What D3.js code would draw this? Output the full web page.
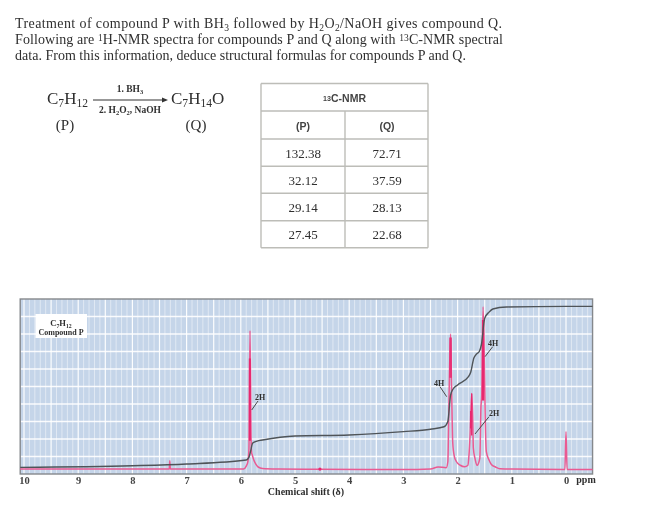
<!DOCTYPE html>
<meta charset="utf-8">
<style>
    html, body { margin: 0; background: #fff; }
    svg { display: block; filter: blur(0.45px); }
    .body { font-family: "Liberation Serif", serif; fill: #2f2f2f; }
    .sans { font-family: "Liberation Sans", sans-serif; font-weight: bold; fill: #444; }
    .tick text { font-family: "Liberation Serif", serif; font-size: 10.5px; font-weight: bold; fill: #444; }
</style>
<svg width="646" height="511"></svg>
<script src="https://d3js.org/d3.v7.min.js"></script>
<script>

    // question text, "_" = subscript run, "^" = superscript run
    var questionLines = [
        ["Treatment of compound P with BH", "_3", " followed by H", "_2", "O", "_2", "/NaOH gives compound Q."],
        ["Following are ", "^1", "H-NMR spectra for compounds P and Q along with ", "^13", "C-NMR spectral"],
        ["data. From this information, deduce structural formulas for compounds P and Q."]
    ];

    // 13C table
    var tableTitle = ["^13", "C-NMR"];
    var tableHeads = ["(P)", "(Q)"];
    var carbonP = ["132.38", "32.12", "29.14", "27.45"];
    var carbonQ = ["72.71", "37.59", "28.13", "22.68"];

    // pink 1H trace: ppm, intensity
    var tracePpm = [10.07, 7.34, 7.32, 7.31, 7.30, 7.28, 5.95, 5.90, 5.87, 5.85, 5.83, 5.81, 5.80, 5.79, 5.76, 5.72, 5.68, 5.6, 5.3, 4.6,
        3.0, 2.5, 2.36, 2.21, 2.18, 2.16, 2.13, 2.11, 2.09, 2.06, 2.02, 1.95, 1.87, 1.81, 1.79, 1.77, 1.74, 1.72, 1.71, 1.68, 1.64,
        1.59, 1.57, 1.555, 1.53, 1.505, 1.49, 1.47, 1.42, 1.38, 1.3, 1.22, 1.0, 0.02, 0.0, -0.02, -0.49];
    var traceVal = [2.8, 2.8, 2.8, 7.6, 2.8, 2.8, 2.8, 4.5, 7, 14, 82, 20, 12, 11, 8, 5.5, 4, 3.2, 2.9, 2.7,
        2.6, 2.9, 4, 3.6, 7, 40, 80, 48, 18, 10, 7, 5, 4.2, 5, 10.8, 22, 46, 30, 15, 9, 5,
        9, 37.7, 45, 95.6, 60, 32, 12.8, 8, 5.6, 4, 3, 2.8, 2.6, 24.2, 2.6, 2.6];

    // dense multiplet lines inside the peaks: ppm, low, high
    var multipletPpm = [5.84, 5.825, 2.14, 2.12, 1.76, 1.74, 1.54, 1.52];
    var multipletLow = [19, 19, 55, 55, 26, 22, 42, 42];
    var multipletHigh = [66, 66, 78, 78, 36, 46, 88, 88];

    // dark integral curve
    var integralPpm = [10.07, 8, 7, 5.9, 5.85, 5.82, 5.78, 5.7, 5.6, 5, 4, 3, 2.5, 2.25, 2.18, 2.13, 2.08, 2.0, 1.8, 1.76, 1.7, 1.65, 1.6,
        1.56, 1.5, 1.42, 1.35, 1.1, 0, -0.49];
    var integralVal = [3.8, 4.7, 5.7, 8, 9.5, 13, 17.7, 18.8, 19.4, 21.7, 22.3, 24.2, 25.6, 27, 30, 45, 48.7, 50.9, 55.6, 58, 66.3, 68.6, 70,
        74, 89, 92.5, 94.3, 95.4, 95.8, 95.8];

    var tickPpm = d3.range(0, 11);
    var spot = { ppm: 4.54, val: 2.8 };

    var svg = d3.select("svg");

    // spectrum scales
    var x = d3.scaleLinear().domain([10, 0]).range([24, 566]);
    var y = d3.scaleLinear().domain([0, 100]).range([474, 299]);
    var left = x(10.07), right = x(-0.49);

    // text with sub and superscripts
    function rich(sel, parts, shift) {
        var prev = 0;
        parts.forEach(function (p) {
            var mode = p[0] == "_" ? shift : p[0] == "^" ? -shift : 0;
            var t = sel.append("tspan").text(mode ? p.slice(1) : p).attr("dy", mode - prev);
            if (mode) t.style("font-size", "68%");
            prev = mode;
        });
        return sel;
    }

    // question
    var widths = [487, 488, 451];
    questionLines.forEach(function (line, i) {
        var t = svg.append("text").attr("class", "body")
            .attr("x", 15).attr("y", 28 + i * 16)
            .style("font-size", "14px");
        rich(t, line, 3);
        t.attr("textLength", widths[i]).attr("lengthAdjust", "spacing");
    });

    // reaction scheme
    function formula(parts, px, py) {
        rich(svg.append("text").attr("class", "body").attr("x", px).attr("y", py).style("font-size", "17px"), parts, 3);
    }
    formula(["C", "_7", "H", "_12"], 47, 104);
    formula(["C", "_7", "H", "_14", "O"], 171, 104);
    svg.append("line").attr("x1", 93).attr("x2", 163).attr("y1", 100).attr("y2", 100)
        .attr("stroke", "#333").attr("stroke-width", 1.2);
    svg.append("path").attr("d", d3.line()([[162, 97.5], [168, 100], [162, 102.5]])).attr("fill", "#333");
    rich(svg.append("text").attr("class", "body").attr("x", 130).attr("y", 92)
        .attr("text-anchor", "middle").style("font-size", "9.5px").style("font-weight", "bold"), ["1. BH", "_3"], 2);
    rich(svg.append("text").attr("class", "body").attr("x", 130).attr("y", 113)
        .attr("text-anchor", "middle").style("font-size", "9.5px").style("font-weight", "bold"),
        ["2. H", "_2", "O", "_2", ", NaOH"], 2);
    [["(P)", 65], ["(Q)", 196]].forEach(function (d) {
        svg.append("text").attr("class", "body").attr("x", d[1]).attr("y", 130)
            .attr("text-anchor", "middle").style("font-size", "15px").text(d[0]);
    });

    // table
    var rowY = [83.5, 111, 139, 166.3, 193.3, 220.7, 247.7];
    var tx0 = 261, tx1 = 345, tx2 = 428;
    var tableLines = svg.append("g").attr("stroke", "#bdbdb8").attr("stroke-width", 1.4);
    rowY.forEach(function (ry) {
        tableLines.append("line").attr("x1", tx0).attr("x2", tx2).attr("y1", ry).attr("y2", ry);
    });
    [[tx0, rowY[0]], [tx2, rowY[0]], [tx1, rowY[1]]].forEach(function (d) {
        tableLines.append("line").attr("x1", d[0]).attr("x2", d[0]).attr("y1", d[1]).attr("y2", rowY[6]);
    });
    rich(svg.append("text").attr("class", "sans").attr("x", (tx0 + tx2) / 2).attr("y", 102)
        .attr("text-anchor", "middle").style("font-size", "10.5px"), tableTitle, 1.5);
    tableHeads.forEach(function (h, i) {
        svg.append("text").attr("class", "sans").attr("x", i ? 387 : 303).attr("y", 129.5)
            .attr("text-anchor", "middle").style("font-size", "10.5px").text(h);
    });
    [carbonP, carbonQ].forEach(function (col, c) {
        col.forEach(function (v, i) {
            svg.append("text").attr("class", "body").attr("x", c ? 387 : 303).attr("y", rowY[i + 2] + 18.5)
                .attr("text-anchor", "middle").style("font-size", "13px").text(v);
        });
    });

    // plot background and grid
    svg.append("rect").attr("x", left).attr("y", y(100)).attr("width", right - left).attr("height", y(0) - y(100))
        .attr("fill", "#c5d5e9");
    var grid = svg.append("g").attr("stroke", "#fff");
    d3.range(-4, 101).forEach(function (k) {
        var major = k % 5 == 0;
        grid.append("line").attr("x1", x(k / 10)).attr("x2", x(k / 10)).attr("y1", y(100)).attr("y2", y(0))
            .attr("stroke-width", major ? 1.2 : 0.8).attr("stroke-opacity", major ? 0.95 : 0.6);
    });
    d3.range(10, 100, 10).forEach(function (v) {
        grid.append("line").attr("x1", left).attr("x2", right).attr("y1", y(v)).attr("y2", y(v))
            .attr("stroke-width", 1.4).attr("stroke-opacity", 0.9);
    });
    svg.append("rect").attr("x", left).attr("y", y(100)).attr("width", right - left).attr("height", y(0) - y(100))
        .attr("fill", "none").attr("stroke", "#85888c").attr("stroke-width", 1.4);

    // legend box
    svg.append("rect").attr("x", 35.5).attr("y", 314).attr("width", 51.5).attr("height", 24).attr("fill", "#fff");
    rich(svg.append("text").attr("class", "body").attr("x", 61).attr("y", 326)
        .attr("text-anchor", "middle").style("font-size", "8.5px").style("font-weight", "bold"), ["C", "_7", "H", "_12"], 2);
    svg.append("text").attr("class", "body").attr("x", 61).attr("y", 335).attr("text-anchor", "middle")
        .style("font-size", "8px").style("font-weight", "bold").text("Compound P");

    // spectrum
    var trace = d3.line().x(function (d) { return x(d); })
        .y(function (d, i) { return y(traceVal[i]); })
        .curve(d3.curveMonotoneX);
    svg.append("path").attr("d", trace(tracePpm)).attr("fill", "none")
        .attr("stroke", "#ea5a92").attr("stroke-width", 1.5);
    multipletPpm.forEach(function (p, i) {
        svg.append("line").attr("x1", x(p)).attr("x2", x(p)).attr("y1", y(multipletLow[i])).attr("y2", y(multipletHigh[i]))
            .attr("stroke", "#e8286f").attr("stroke-width", 1.3);
    });
    svg.append("circle").attr("cx", x(spot.ppm)).attr("cy", y(spot.val)).attr("r", 1.6).attr("fill", "#e8286f");

    var integral = d3.line().x(function (d) { return x(d); })
        .y(function (d, i) { return y(integralVal[i]); })
        .curve(d3.curveMonotoneX);
    svg.append("path").attr("d", integral(integralPpm)).attr("fill", "none")
        .attr("stroke", "#4f5458").attr("stroke-width", 1.4);

    // axis
    var axis = d3.axisBottom(x).tickValues(tickPpm).tickFormat(d3.format("d")).tickSize(0).tickPadding(3);
    var axisG = svg.append("g").attr("transform", "translate(0," + 473.5 + ")").call(axis);
    axisG.select(".domain").remove();
    svg.append("text").attr("class", "body").attr("x", 586).attr("y", 483).attr("text-anchor", "middle")
        .style("font-size", "10px").style("font-weight", "bold").text("ppm");
    rich(svg.append("text").attr("class", "body").attr("x", 306).attr("y", 495).attr("text-anchor", "middle")
        .style("font-size", "10px").style("font-weight", "bold"), ["Chemical shift (δ)"], 0);

    // integration labels with leaders
    [["2H", 260, 397, 258, 401, 251.7, 410],
     ["4H", 439, 383, 440, 386.7, 446.7, 396.7],
     ["4H", 493, 343, 492.7, 346.7, 485, 356.7],
     ["2H", 494, 413.5, 489, 416.7, 475, 434]].forEach(function (d) {
        svg.append("text").attr("class", "body").attr("x", d[1]).attr("y", d[2] + 2.8).attr("text-anchor", "middle")
            .style("font-size", "8px").style("font-weight", "bold").text(d[0]);
        svg.append("line").attr("x1", d[3]).attr("y1", d[4]).attr("x2", d[5]).attr("y2", d[6])
            .attr("stroke", "#4a4a4a").attr("stroke-width", 1);
    });

</script>
